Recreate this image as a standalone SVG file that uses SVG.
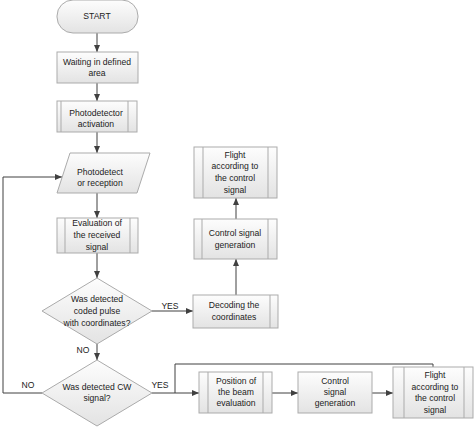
<svg xmlns="http://www.w3.org/2000/svg" width="474" height="428" viewBox="0 0 474 428">
<style>
.n{fill:url(#g);stroke:#ababab;stroke-width:1}
.il{stroke:#ababab;stroke-width:1;fill:none}
.t{font-family:"Liberation Sans",Arial,sans-serif;font-size:8.6px;fill:#222;text-anchor:middle}
.c{stroke:#404040;stroke-width:1;fill:none}
.ca{stroke:#404040;stroke-width:1;fill:none;marker-end:url(#a)}
</style>
<defs>
<linearGradient id="g" x1="0" y1="0" x2="0" y2="1">
<stop offset="0" stop-color="#fdfdfd"/>
<stop offset="1" stop-color="#e3e3e3"/>
</linearGradient>
<marker id="a" markerWidth="7" markerHeight="6" refX="7" refY="3" orient="auto" markerUnits="userSpaceOnUse">
<path d="M0,0 L7,3 L0,6 Z" fill="#404040"/>
</marker>
</defs>
<rect width="474" height="428" fill="#fff"/>
<g id="connectors">
<line class="ca" x1="97" y1="33" x2="97" y2="52"/>
<line class="ca" x1="97" y1="83" x2="97" y2="101"/>
<line class="ca" x1="97" y1="132" x2="97" y2="153"/>
<line class="ca" x1="97" y1="193" x2="97" y2="218"/>
<line class="ca" x1="97" y1="253" x2="97" y2="278"/>
<line class="ca" x1="97" y1="344" x2="97" y2="360"/>
<line class="ca" x1="152" y1="311" x2="193" y2="311"/>
<line class="ca" x1="236" y1="295" x2="236" y2="259"/>
<line class="ca" x1="236" y1="219" x2="236" y2="198"/>
<polyline class="ca" points="42,393 3,393 3,177 62,177"/>
<line class="ca" x1="152" y1="393" x2="199" y2="393"/>
<polyline class="c" points="175,393 175,364 433,364 433,367"/>
<line class="ca" x1="272" y1="393" x2="298" y2="393"/>
<line class="ca" x1="372" y1="393" x2="393" y2="393"/>
<text class="t" x="83" y="353">NO</text>
<text class="t" x="170" y="309">YES</text>
<text class="t" x="28" y="388">NO</text>
<text class="t" x="160" y="388">YES</text>
</g>
<g id="start">
<rect class="n" x="57" y="0" width="81" height="33" rx="16" ry="16"/>
<text class="t" x="97" y="19">START</text>
</g>
<g id="waiting">
<rect class="n" x="57" y="52" width="81" height="31"/>
<text class="t" x="97" y="65">Waiting in defined</text>
<text class="t" x="97" y="76">area</text>
</g>
<g id="activation">
<rect class="n" x="57" y="101" width="80" height="31"/>
<line class="il" x1="61" y1="101" x2="61" y2="132"/>
<line class="il" x1="128" y1="101" x2="128" y2="132"/>
<text class="t" x="96" y="116">Photodetector</text>
<text class="t" x="96" y="127">activation</text>
</g>
<g id="reception">
<polygon class="n" points="70,153 150,153 137,193 57,193"/>
<text class="t" x="100" y="175">Photodetect</text>
<text class="t" x="100" y="186">or reception</text>
</g>
<g id="evaluation">
<rect class="n" x="57" y="218" width="81" height="35"/>
<line class="il" x1="65" y1="218" x2="65" y2="253"/>
<line class="il" x1="130" y1="218" x2="130" y2="253"/>
<text class="t" x="97" y="226">Evaluation of</text>
<text class="t" x="97" y="238">the received</text>
<text class="t" x="97" y="250">signal</text>
</g>
<g id="decision1">
<polygon class="n" points="97,278 152,311 97,344 42,311"/>
<text class="t" x="97" y="302">Was detected</text>
<text class="t" x="97" y="314">coded pulse</text>
<text class="t" x="97" y="326">with coordinates?</text>
</g>
<g id="decoding">
<rect class="n" x="193" y="295" width="85" height="33"/>
<line class="il" x1="270" y1="295" x2="270" y2="328"/>
<text class="t" x="234" y="308">Decoding the</text>
<text class="t" x="234" y="320">coordinates</text>
</g>
<g id="control1">
<rect class="n" x="194" y="219" width="83" height="40"/>
<line class="il" x1="202" y1="219" x2="202" y2="259"/>
<line class="il" x1="268" y1="219" x2="268" y2="259"/>
<text class="t" x="235" y="236">Control signal</text>
<text class="t" x="235" y="248">generation</text>
</g>
<g id="flight1">
<rect class="n" x="194" y="147" width="83" height="51"/>
<line class="il" x1="203" y1="147" x2="203" y2="198"/>
<line class="il" x1="268" y1="147" x2="268" y2="198"/>
<text class="t" x="235" y="158">Flight</text>
<text class="t" x="235" y="169">according to</text>
<text class="t" x="235" y="181">the control</text>
<text class="t" x="235" y="193">signal</text>
</g>
<g id="decision2">
<polygon class="n" points="97,360 152,393 97,426 42,393"/>
<text class="t" x="97" y="390">Was detected CW</text>
<text class="t" x="97" y="401">signal?</text>
</g>
<g id="position">
<rect class="n" x="199" y="372" width="73" height="41"/>
<line class="il" x1="208" y1="372" x2="208" y2="413"/>
<line class="il" x1="263" y1="372" x2="263" y2="413"/>
<text class="t" x="236" y="384">Position of</text>
<text class="t" x="236" y="395">the beam</text>
<text class="t" x="236" y="406">evaluation</text>
</g>
<g id="control2">
<rect class="n" x="298" y="372" width="74" height="41"/>
<text class="t" x="335" y="384">Control</text>
<text class="t" x="335" y="395">signal</text>
<text class="t" x="335" y="406">generation</text>
</g>
<g id="flight2">
<rect class="n" x="393" y="367" width="80" height="51"/>
<line class="il" x1="404" y1="367" x2="404" y2="418"/>
<line class="il" x1="464" y1="367" x2="464" y2="418"/>
<text class="t" x="435" y="378">Flight</text>
<text class="t" x="435" y="390">according to</text>
<text class="t" x="435" y="401">the control</text>
<text class="t" x="435" y="413">signal</text>
</g>
</svg>
